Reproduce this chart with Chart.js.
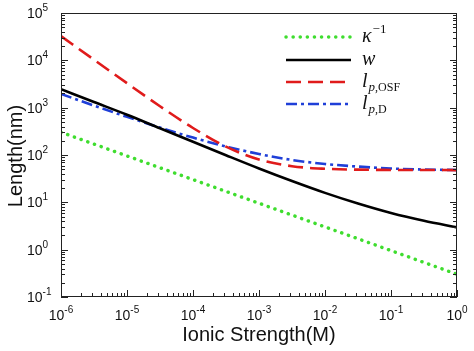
<!DOCTYPE html>
<html>
<head>
<meta charset="utf-8">
<script src="https://cdn.jsdelivr.net/npm/chart.js@4.4.1/dist/chart.umd.min.js"></script>
<style>
    body { margin: 0; background: #fff; }
    #wrap { width: 474px; height: 351px; }
</style>
</head>
<body>
<div id="wrap"><canvas id="lengthChart"></canvas></div>
<script>
// values (log-log)
const ionicStrength = [1e-6, 3.16e-6, 1e-5, 3.16e-5, 1e-4, 3.16e-4, 1e-3, 3.16e-3, 1e-2, 3.16e-2, 1e-1, 3.16e-1, 1];
const debyeLength = [302, 170, 95.5, 53.7, 30.2, 17.0, 9.55, 5.37, 3.02, 1.70, 0.955, 0.537, 0.302];
const widthW = [2455, 1318, 708, 367, 190.5, 98.9, 51.9, 28.2, 15.85, 9.44, 5.96, 4.07, 2.95];
const lpOSF = [32450, 10290, 3290, 1073, 372, 150, 80, 58, 51.2, 49, 48.3, 48.1, 48];
const lpD = [1950, 1105, 639, 379, 233, 151, 105, 78.5, 64.6, 56.9, 51.9, 49.3, 48.2];

const xExponents = [-6, -5, -4, -3, -2, -1, 0];
const yExponents = [-1, 0, 1, 2, 3, 4, 5];

const legendItems = [
    { base: 'κ', sup: '−1' },
    { base: 'w' },
    { base: 'l', subItalic: 'p', sub: ',OSF' },
    { base: 'l', subItalic: 'p', sub: ',D' }
];

function pts(ys) {
    return ionicStrength.map((x, i) => ({ x: x, y: ys[i] }));
}

// frame, inward ticks, tick labels, titles and legend
const decorPlugin = {
    id: 'decor',
    afterDraw(chart) {
        const ctx = chart.ctx;
        const a = chart.chartArea;
        const xs = chart.scales.x;
        const ys = chart.scales.y;
        ctx.save();
        ctx.strokeStyle = '#222';
        ctx.lineWidth = 1;
        ctx.strokeRect(a.left + 0.5, a.top + 0.5, a.right - a.left - 1, a.bottom - a.top - 1);

        ctx.beginPath();
        for (let k = -1; k <= 5; k++) {
            for (let m = 1; m <= 9; m++) {
                const v = m * Math.pow(10, k);
                if (v > 1e5) break;
                const py = Math.round(ys.getPixelForValue(v)) + 0.5;
                const len = m === 1 ? 7 : 4;
                ctx.moveTo(a.left, py); ctx.lineTo(a.left + len, py);
                ctx.moveTo(a.right, py); ctx.lineTo(a.right - len, py);
            }
        }
        for (let k = -6; k <= 0; k++) {
            for (let m = 1; m <= 9; m++) {
                const v = m * Math.pow(10, k);
                if (v > 1) break;
                const px = Math.round(xs.getPixelForValue(v)) + 0.5;
                const len = m === 1 ? 7 : 4;
                ctx.moveTo(px, a.bottom); ctx.lineTo(px, a.bottom - len);
            }
        }
        ctx.stroke();

        ctx.fillStyle = '#111';
        ctx.textBaseline = 'alphabetic';
        const supText = (e) => (e < 0 ? '-' + (-e) : '' + e);

        // x tick labels
        xExponents.forEach(e => {
            const px = xs.getPixelForValue(Math.pow(10, e));
            ctx.font = '14px "Liberation Sans", Arial, sans-serif';
            const w1 = ctx.measureText('10').width;
            ctx.font = '10px "Liberation Sans", Arial, sans-serif';
            const w2 = ctx.measureText(supText(e)).width;
            const x0 = px - (w1 + w2) / 2;
            ctx.font = '14px "Liberation Sans", Arial, sans-serif';
            ctx.textAlign = 'left';
            ctx.fillText('10', x0, 320);
            ctx.font = '10px "Liberation Sans", Arial, sans-serif';
            ctx.fillText(supText(e), x0 + w1, 313);
        });

        // y tick labels
        yExponents.forEach(e => {
            const py = ys.getPixelForValue(Math.pow(10, e));
            ctx.textAlign = 'left';
            ctx.font = '14px "Liberation Sans", Arial, sans-serif';
            const w1 = ctx.measureText('10').width;
            ctx.fillText('10', 27, py + 5);
            ctx.font = '10px "Liberation Sans", Arial, sans-serif';
            ctx.fillText(supText(e), 27 + w1, py - 2);
        });

        // axis titles
        ctx.font = '20px "Liberation Sans", Arial, sans-serif';
        ctx.textAlign = 'center';
        ctx.fillText('Ionic Strength(M)', (a.left + a.right) / 2, 341);
        ctx.save();
        ctx.translate(22, (a.top + a.bottom) / 2 + 1);
        ctx.rotate(-Math.PI / 2);
        ctx.fillText('Length(nm)', 0, 0);
        ctx.restore();

        // legend
        const rowY = [37, 60, 82, 104];
        chart.data.datasets.forEach((ds, i) => {
            const y = rowY[i];
            ctx.save();
            ctx.strokeStyle = ds.borderColor;
            ctx.lineWidth = ds.borderWidth;
            ctx.lineCap = ds.borderCapStyle || 'butt';
            ctx.setLineDash(ds.borderDash || []);
            ctx.beginPath();
            ctx.moveTo(286, y);
            ctx.lineTo(351, y);
            ctx.stroke();
            ctx.restore();

            const it = legendItems[i];
            let x = 362;
            const base = y + 5;
            ctx.textAlign = 'left';
            ctx.fillStyle = '#111';
            ctx.font = 'italic 20px "Liberation Serif", "Times New Roman", serif';
            ctx.fillText(it.base, x, base);
            x += ctx.measureText(it.base).width + 1;
            if (it.sup) {
                ctx.font = '13px "Liberation Serif", serif';
                ctx.fillText(it.sup, x, base - 9);
            }
            if (it.subItalic) {
                ctx.font = 'italic 13px "Liberation Serif", serif';
                ctx.fillText(it.subItalic, x, base + 4);
                x += ctx.measureText(it.subItalic).width;
                ctx.font = '12px "Liberation Serif", serif';
                ctx.fillText(it.sub, x, base + 4);
            }
        });
        ctx.restore();
    }
};

new Chart(document.getElementById('lengthChart'), {
    type: 'line',
    data: {
        datasets: [
            {
                label: 'kappa^-1',
                data: pts(debyeLength),
                borderColor: '#3fdd2f',
                borderWidth: 3.5,
                borderDash: [0.1, 7],
                borderCapStyle: 'round'
            },
            {
                label: 'w',
                data: pts(widthW),
                borderColor: '#000000',
                borderWidth: 2.6
            },
            {
                label: 'lp,OSF',
                data: pts(lpOSF),
                borderColor: '#e01b1b',
                borderWidth: 2.6,
                borderDash: [15, 7]
            },
            {
                label: 'lp,D',
                data: pts(lpD),
                borderColor: '#1f3fd8',
                borderWidth: 2.6,
                borderDash: [11, 4, 3, 4]
            }
        ]
    },
    options: {
        responsive: true,
        maintainAspectRatio: false,
        animation: false,
        layout: { padding: { left: 61, right: 17, top: 13, bottom: 54 } },
        elements: {
            point: { radius: 0 },
            line: { cubicInterpolationMode: 'monotone', fill: false }
        },
        scales: {
            x: { type: 'logarithmic', min: 1e-6, max: 1, display: false },
            y: { type: 'logarithmic', min: 0.1, max: 1e5, display: false }
        },
        plugins: {
            legend: { display: false },
            tooltip: { enabled: false }
        }
    },
    plugins: [decorPlugin]
});
</script>
</body>
</html>
